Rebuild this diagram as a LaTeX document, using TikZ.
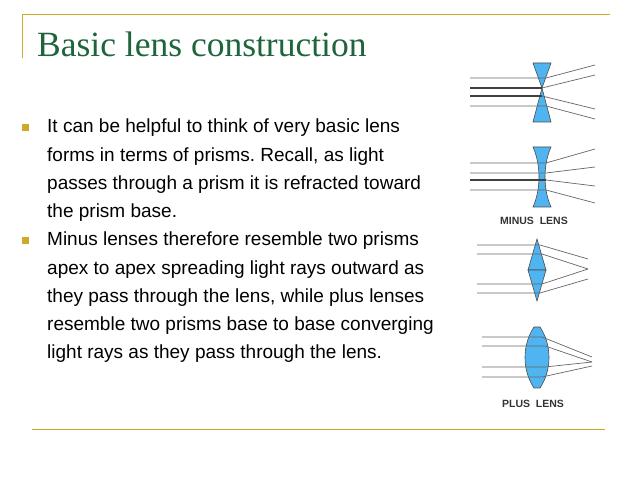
\documentclass[tikz,border=0pt]{standalone}
\usepackage{fontspec}
\setmainfont{Liberation Sans}
\newfontfamily\titlefont{Liberation Serif}
\frenchspacing
\begin{document}
\begin{tikzpicture}[x=1pt,y=-1pt,
  rule/.style={draw=gold,line width=1pt},
  ray/.style={draw=gray!80!black,line width=0.7pt},
  thick ray/.style={draw=black!75,line width=1.4pt},
  lens/.style={fill=lensblue,draw=black!70,line width=0.6pt},
  body/.style={anchor=north west,align=left,font=\fontsize{19}{28.2}\selectfont,inner sep=0pt},
  lbl/.style={font=\fontsize{10.5}{11}\selectfont\bfseries,text=black!80}]
\definecolor{gold}{RGB}{205,170,40}
\definecolor{lensblue}{RGB}{80,180,240}
\definecolor{titlegreen}{RGB}{30,100,60}
\definecolor{bullet}{RGB}{205,170,40}
\useasboundingbox[fill=white] (0,0) rectangle (638,478);
\draw[rule] (22,58) -- (22,15) -- (610,15);
\draw[rule] (32,430) -- (605,430);
\node[anchor=base west,text=titlegreen,font=\titlefont\fontsize{35.5}{38}\selectfont,inner sep=0pt] (title) at (37,57) {Basic lens construction};
\node[fill=bullet,minimum size=7pt,inner sep=0pt] (b1) at (25,128) {};
\node[fill=bullet,minimum size=7pt,inner sep=0pt] (b2) at (25,241) {};
\node[body] (t1) at (47,119) {It can be helpful to think of very basic lens\\forms in terms of prisms. Recall, as light\\passes through a prism it is refracted toward\\the prism base.};
\node[body] (t2) at (47,232) {Minus lenses therefore resemble two prisms\\apex to apex spreading light rays outward as\\they pass through the lens, while plus lenses\\resemble two prisms base to base converging\\light rays as they pass through the lens.};
% minus lens 1 (prisms apex to apex)
\draw[lens] (533,63) -- (551,63) -- (542,88) -- cycle;
\draw[lens] (533,122) -- (551,122) -- (542,88) -- cycle;
\draw[ray] (470,78) -- (546,78) -- (595,65);
\draw[thick ray] (470,88) -- (542,88);
\draw[ray] (542,88) -- (595,75);
\draw[thick ray] (470,96) -- (542,96);
\draw[ray] (542,96) -- (595,109);
\draw[ray] (470,106) -- (546,106) -- (595,119);
% minus lens 2 (concave)
\draw[lens] (533,147) -- (551,147) .. controls (543,165) and (543,189) .. (551,207) -- (533,207) .. controls (541,189) and (541,165) .. (533,147) -- cycle;
\draw[ray] (470,163) -- (546,163) -- (595,149);
\draw[ray] (470,173) -- (546,173) -- (595,167);
\draw[thick ray] (470,180) -- (546,180);
\draw[ray] (546,180) -- (595,186);
\draw[ray] (470,190) -- (546,190) -- (595,203);
\node[lbl] (minus) at (534,221) {MINUS\ \ LENS};
% plus lens 1 (prisms base to base)
\draw[lens] (537,239) -- (546,270) -- (528,270) -- cycle;
\draw[lens] (537,301) -- (546,270) -- (528,270) -- cycle;
\draw[ray] (477,245) -- (540,245) -- (588,259);
\draw[ray] (477,254) -- (542,254) -- (588,269);
\draw[ray] (477,284) -- (542,284) -- (588,269);
\draw[ray] (477,293) -- (540,293) -- (588,279);
% plus lens 2 (convex)
\draw[lens] (534,327) -- (540,327) .. controls (552,345) and (552,370) .. (540,388) -- (534,388) .. controls (522,370) and (522,345) .. (534,327) -- cycle;
\draw[ray] (482,337) -- (542,337) -- (592,357);
\draw[ray] (482,346) -- (545,346) -- (592,362);
\draw[ray] (482,367) -- (545,367) -- (592,362);
\draw[ray] (482,377) -- (542,377) -- (592,366);
\node[lbl] (plus) at (533,404) {PLUS\ \ LENS};
\end{tikzpicture}
\end{document}
